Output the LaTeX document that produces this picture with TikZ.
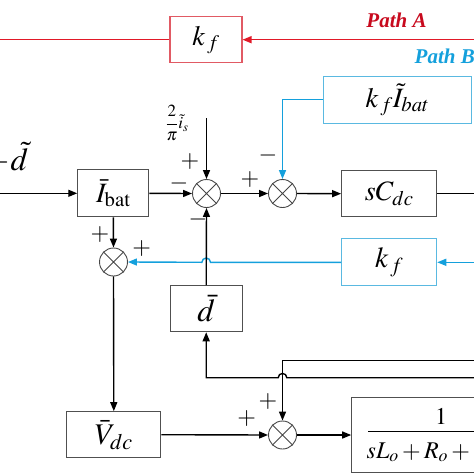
\documentclass[tikz,border=0pt]{standalone}
\usepackage{mathptmx}
\usepackage{fontspec}
\setmainfont{Liberation Serif}
\usetikzlibrary{arrows.meta}
\definecolor{pred}{RGB}{225,25,40}
\definecolor{predbox}{RGB}{225,90,100}
\definecolor{ptext}{RGB}{200,10,30}
\definecolor{pblue}{RGB}{20,160,220}
\definecolor{pbluebox}{RGB}{90,185,225}
\definecolor{boxgray}{RGB}{80,80,80}
\definecolor{circgray}{RGB}{70,70,70}
\newcommand{\fs}[1]{\fontsize{#1}{#1}\selectfont}
\begin{document}
\begin{tikzpicture}[x=1pt,y=-1pt,
  >={Triangle[length=9pt,width=7pt]},
  conn/.style={line width=1.4pt, draw=black},
  bconn/.style={line width=1.4pt, draw=pblue, color=pblue},
  rconn/.style={line width=1.4pt, draw=pred, color=pred},
  box/.style={draw=boxgray, line width=1.1pt, inner sep=0pt, minimum height=46pt},
  rbox/.style={box, draw=predbox},
  bbox/.style={box, draw=pbluebox},
  sumj/.style={circle, draw=circgray, line width=0.9pt, minimum size=28pt, inner sep=0pt},
  sgn/.style={font=\fs{24}, inner sep=0pt},
]
\useasboundingbox (0,0) rectangle (474,474);
\clip (0,0) rectangle (474,474);

% boxes
\node[rbox, minimum width=72pt, font=\fs{28}] (kfA) at (206,39.7) {$k_{\,f}$};
\node[bbox, minimum width=148pt, minimum height=47pt, font=\fs{28}] (kfI) at (397.5,99.7) {$k_{\,f}\tilde{I}_{bat}$};
\node[box, minimum width=71pt, minimum height=47pt, font=\fs{28}] (Ibat) at (113.3,193.3) {$\bar{I}_{\mathrm{bat}}$};
\node[box, minimum width=95pt, font=\fs{28}] (sC) at (389.2,193.7) {$sC_{dc}$};
\node[bbox, minimum width=95pt, minimum height=47pt, font=\fs{29}] (kfB) at (389.2,262.3) {$k_{\,f}$};
\node[box, minimum width=72pt, font=\fs{32}] (db) at (206.2,308.7) {$\bar{d}$};
\node[box, minimum width=94pt, font=\fs{30}] (Vdc) at (113.8,434.7) {$\bar{V}_{dc}$};
\node[box, draw=boxgray, anchor=north west, minimum width=140pt, minimum height=75.5pt] (G) at (351.2,396.5) {};

% fraction in G
\node[font=\fs{24}, inner sep=0pt] (one) at (441,416.5) {$1$};
\coordinate (fl) at (368.3,431.7);
\coordinate (fr) at (480,431.7);
\draw[line width=1pt] (fl) -- (fr);
\node[font=\fs{24}, anchor=base west, inner sep=0pt] (den) at (366.5,458) {$sL_o+R_o+{}$};

% summing junctions
\node[sumj] (s1) at (206.5,193.5) {};
\node[sumj] (s2) at (282.5,193.5) {};
\node[sumj] (s3) at (113.5,262) {};
\node[sumj] (s4) at (282.5,435) {};
\foreach \s in {s1,s2,s3,s4}{
  \draw[circgray, line width=0.8pt] (\s.45) -- (\s.225) (\s.135) -- (\s.315);
}

% texts
\node[font=\fs{21}\bfseries\itshape, color=ptext, inner sep=0pt] (pA) at (396.5,20) {Path A};
\node[font=\fs{21}\bfseries\itshape, color=pblue, inner sep=0pt, anchor=west] (pB) at (414.5,56) {Path B};
\node[font=\fs{32}, anchor=base east, inner sep=0pt] (dt) at (28.5,170) {$-\tilde{d}$};
\node[font=\fs{17}, inner sep=0pt] (pi) at (177,123) {$\displaystyle\frac{2}{\pi}\tilde{i}_s$};

% coordinates for free ends
\coordinate (rA) at (474,39.7);
\coordinate (lA) at (0,39.7);
\coordinate (rB) at (474,262.3);
\coordinate (bI) at (282.5,99.7);
\coordinate (lin) at (0,193.3);
\coordinate (top1) at (206.5,118);
\coordinate (rC) at (474,193.7);
\coordinate (r1) at (474,360.7);
\coordinate (c1) at (282.5,360.7);
\coordinate (r2) at (474,377.7);
\coordinate (h2) at (286.8,377.7);
\coordinate (c2) at (206.2,377.7);
\coordinate (h1) at (210.5,262.3);

% red path A
\draw[rconn,->] (rA) -- (kfA.east);
\draw[rconn] (kfA.west) -- (lA);

% blue path B
\draw[bconn,->] (kfI.west) -- (bI) -- (s2.north);
\draw[bconn,->] (rB) -- (kfB.east);
\draw[bconn,->] (kfB.west) -- (h1) arc[start angle=0,end angle=180,radius=4.3pt] -- (s3.east);

% black connectors
\draw[conn,->] (lin) -- (Ibat.west);
\draw[conn,->] (Ibat.east) -- (s1.west);
\draw[conn,->] (top1) -- (s1.north);
\draw[conn,->] (s1.east) -- (s2.west);
\draw[conn,->] (s2.east) -- (sC.west);
\draw[conn] (sC.east) -- (rC);
\draw[conn,->] (Ibat.south) -- (s3.north);
\draw[conn,->] (s3.south) -- (Vdc.north);
\draw[conn,->] (db.north) -- (s1.south);
\draw[conn,->] (r2) -- (h2) arc[start angle=0,end angle=180,radius=4.3pt] -- (c2) -- (db.south);
\draw[conn,->] (r1) -- (c1) -- (s4.north);
\draw[conn,->] (Vdc.east) -- (s4.west);
\draw[conn,->] (s4.east) -- (G.west |- s4.east);

% signs
\node[sgn] (m1) at (179,183) {$-$};
\node[sgn] (p1) at (190,162) {$+$};
\node[sgn] (m2) at (198,219) {$-$};
\node[sgn] (p2) at (250,180) {$+$};
\node[sgn] (m3) at (268,155) {$-$};
\node[sgn] (p3) at (100,235) {$+$};
\node[sgn] (p4) at (141.7,248.3) {$+$};
\node[sgn] (p5) at (246.7,418.3) {$+$};
\node[sgn] (p6) at (268,401.7) {$+$};
\end{tikzpicture}
\end{document}
